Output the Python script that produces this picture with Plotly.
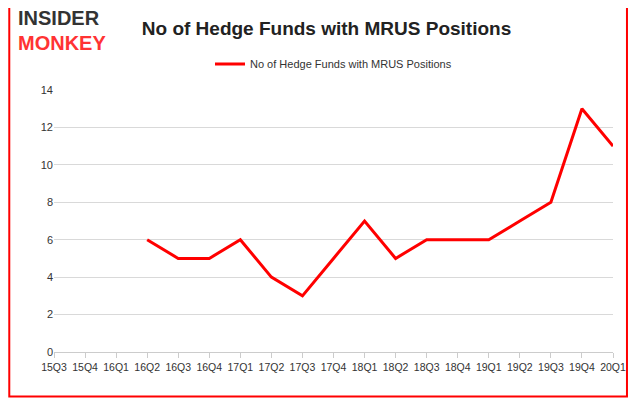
import plotly.graph_objects as go

quarters = ["15Q3","15Q4","16Q1","16Q2","16Q3","16Q4","17Q1","17Q2","17Q3","17Q4",
            "18Q1","18Q2","18Q3","18Q4","19Q1","19Q2","19Q3","19Q4","20Q1"]
funds = [None,None,None,6,5,5,6,4,3,5,7,5,6,6,6,7,8,13,11]

fig = go.Figure()
fig.add_trace(go.Scatter(x=quarters, y=funds, mode="lines",
                         line=dict(color="#ff0000", width=3),
                         name="No of Hedge Funds with MRUS Positions", connectgaps=False))
fig.update_layout(
    width=637, height=408, paper_bgcolor="white", plot_bgcolor="white",
    margin=dict(l=46, r=32, t=82, b=64),
    font=dict(family="Liberation Sans, Arial", size=11, color="#333"),
    title=dict(text="<b>No of Hedge Funds with MRUS Positions</b>", x=0.5, xanchor="center",
               y=0.951, yanchor="middle", font=dict(size=19, color="#222")),
    showlegend=True,
    legend=dict(orientation="h", x=0.5, xanchor="center", y=1.099, yanchor="middle",
                font=dict(size=11, color="#333")),
    xaxis=dict(type="category", showgrid=False, showline=True, linecolor="#ccc",
               ticks="outside", tickcolor="#ccc", tickangle=0, tickfont=dict(size=10.5)),
    yaxis=dict(range=[0,14], dtick=2, showgrid=True, gridcolor="#d9d9d9",
               zeroline=False, showline=False, tickfont=dict(size=11)),
    shapes=[dict(type="rect", xref="paper", yref="paper", x0=-0.08, x1=1.025, y0=-0.17, y1=1.336,
                 line=dict(color="#ff0000", width=2))],
    annotations=[
        dict(text="<b>INSIDER</b>", xref="paper", yref="paper", x=-0.068, y=1.275, xanchor="left",
             yanchor="middle", showarrow=False, font=dict(size=20, color="#333", family="Liberation Sans")),
        dict(text="<b>MONKEY</b>", xref="paper", yref="paper", x=-0.068, y=1.18, xanchor="left",
             yanchor="middle", showarrow=False, font=dict(size=20, color="#ff3333", family="Liberation Sans")),
    ],
)
fig.write_html("out.html")
